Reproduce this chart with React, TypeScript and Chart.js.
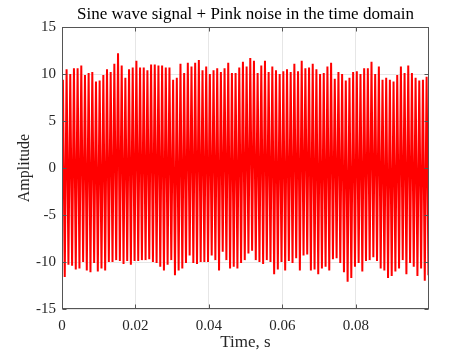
import { useEffect, useRef } from "react";
import { Chart, registerables } from "chart.js";

Chart.register(...registerables);

// Peak (max) value of each 1 ms cycle
const peakValues = [
  9.4, 10.5, 10.0, 10.6, 10.6, 10.9, 9.9, 10.1, 10.2, 9.2,
  9.3, 9.9, 10.5, 10.2, 11.1, 12.2, 10.9, 9.6, 10.5, 10.7,
  11.4, 10.7, 10.7, 10.4, 11.0, 11.0, 10.9, 10.9, 10.7, 10.7,
  9.4, 9.6, 11.1, 10.1, 11.2, 10.8, 11.2, 11.5, 10.4, 10.8,
  10.0, 10.4, 10.6, 10.2, 10.6, 11.2, 10.1, 10.1, 10.7, 11.3,
  10.8, 11.7, 11.4, 10.1, 10.9, 11.4, 10.2, 10.8, 10.4, 10.0,
  10.3, 10.5, 10.2, 11.1, 10.3, 11.4, 10.6, 10.7, 11.1, 10.5,
  10.0, 10.1, 10.8, 11.2, 9.5, 10.2, 10.0, 9.3, 9.6, 10.2,
  10.3, 10.0, 10.6, 10.6, 11.3, 10.0, 10.8, 9.4, 9.6, 9.4,
  9.2, 9.9, 10.8, 10.1, 10.9, 10.1, 9.6, 9.3, 9.4, 9.7,
];

// Trough (min) value of each cycle
const troughValues = [
  -11.6, -10.3, -10.4, -10.8, -10.7, -10.0, -10.9, -11.1, -10.1, -11.0,
  -10.7, -10.9, -10.0, -10.0, -9.8, -9.9, -10.2, -9.9, -10.3, -9.9,
  -9.9, -9.8, -9.8, -9.7, -10.0, -10.1, -10.5, -10.9, -10.3, -9.8,
  -11.4, -10.9, -10.7, -10.1, -9.3, -10.1, -10.2, -10.0, -10.0, -10.0,
  -9.3, -9.8, -10.9, -8.9, -9.8, -10.7, -10.5, -10.7, -10.1, -9.8,
  -9.1, -8.8, -9.8, -10.0, -10.2, -9.8, -10.0, -11.3, -10.8, -10.0,
  -10.9, -9.9, -10.1, -9.6, -10.9, -9.3, -9.2, -10.9, -10.8, -11.3,
  -10.7, -10.5, -10.9, -9.7, -9.6, -10.1, -11.1, -12.1, -11.7, -10.5,
  -10.1, -11.0, -9.9, -9.8, -9.5, -9.9, -10.7, -10.9, -11.7, -11.5,
  -11.0, -10.7, -9.8, -11.3, -10.1, -10.5, -11.5, -10.7, -12.0, -11.4,
];

const startValue = 3.3;
const cyclePeriod = 0.001; // seconds per sine cycle (1 kHz)
const xTicks = [0, 0.02, 0.04, 0.06, 0.08];
const yTicks = [-15, -10, -5, 0, 5, 10, 15];
const xMin = 0;
const xMax = 0.0999;
const yMin = -15;
const yMax = 15;
const titleText = "Sine wave signal + Pink noise in the time domain";
const xLabel = "Time, s";
const yLabel = "Amplitude";

const FONT = "'Liberation Serif', 'Times New Roman', Times, serif";

const framePlugin = {
  id: "frame",
  afterDatasetsDraw(chart: any) {
    const { ctx, chartArea: a, scales } = chart;
    const l = Math.round(a.left) + 0.5;
    const r = Math.round(a.right) - 0.5;
    const t = Math.round(a.top) + 0.5;
    const b = Math.round(a.bottom) - 0.5;
    ctx.save();
    ctx.strokeStyle = "#555555";
    ctx.lineWidth = 1;
    ctx.strokeRect(l, t, r - l, b - t);
    const len = 4;
    ctx.beginPath();
    xTicks.forEach((v) => {
      const px = Math.round(scales.x.getPixelForValue(v)) + 0.5;
      ctx.moveTo(px, b);
      ctx.lineTo(px, b - len);
      ctx.moveTo(px, t);
      ctx.lineTo(px, t + len);
    });
    yTicks.forEach((v) => {
      const py = Math.round(scales.y.getPixelForValue(v)) + 0.5;
      ctx.moveTo(l, py);
      ctx.lineTo(l + len, py);
      ctx.moveTo(r, py);
      ctx.lineTo(r - len, py);
    });
    ctx.stroke();
    ctx.restore();
  },
};

export default function App() {
  const ref = useRef<HTMLCanvasElement>(null);

  useEffect(() => {
    document.body.style.margin = "0";
    const points: { x: number; y: number }[] = [{ x: 0, y: startValue }];
    peakValues.forEach((p, k) => {
      points.push({ x: (k + 0.25) * cyclePeriod, y: p });
      points.push({ x: (k + 0.75) * cyclePeriod, y: troughValues[k] });
    });

    const chart = new Chart(ref.current as HTMLCanvasElement, {
      type: "line",
      data: {
        datasets: [
          {
            data: points,
            borderColor: "#ff0000",
            borderWidth: 2,
            pointRadius: 0,
            tension: 0,
            fill: false,
          },
        ],
      },
      plugins: [framePlugin],
      options: {
        responsive: false,
        animation: false,
        layout: { padding: { left: 0, right: 45, top: 0, bottom: 0 } },
        plugins: {
          legend: { display: false },
          tooltip: { enabled: false },
          title: {
            display: true,
            text: titleText,
            color: "#000000",
            fullSize: false,
            font: { family: FONT, size: 17, weight: "normal" },
            padding: { top: 4.6, bottom: 2 },
          },
        },
        scales: {
          x: {
            type: "linear",
            min: xMin,
            max: xMax,
            afterBuildTicks: (s: any) => {
              s.ticks = xTicks.map((v) => ({ value: v }));
            },
            afterFit: (s: any) => {
              s.height = 46;
            },
            grid: { color: "#e6e6e6", drawTicks: false, lineWidth: 1 },
            border: { display: false },
            ticks: {
              color: "#262626",
              font: { family: FONT, size: 15 },
              padding: 8,
              maxRotation: 0,
              autoSkip: false,
              callback: (v: any) => String(v),
            },
            title: {
              display: true,
              text: xLabel,
              color: "#262626",
              font: { family: FONT, size: 17 },
              padding: { top: 0, bottom: 2 },
            },
          },
          y: {
            type: "linear",
            min: yMin,
            max: yMax,
            afterBuildTicks: (s: any) => {
              s.ticks = yTicks.map((v) => ({ value: v }));
            },
            afterFit: (s: any) => {
              s.width = 62;
            },
            grid: { color: "#e6e6e6", drawTicks: false, lineWidth: 1 },
            border: { display: false },
            ticks: {
              color: "#262626",
              font: { family: FONT, size: 15 },
              padding: 6,
              autoSkip: false,
              callback: (v: any) => String(v),
            },
            title: {
              display: true,
              text: yLabel,
              color: "#262626",
              font: { family: FONT, size: 16 },
              padding: { top: 15, bottom: 0 },
            },
          },
        },
      },
    } as any);
    return () => chart.destroy();
  }, []);

  return (
    <div style={{ width: 474, height: 355, position: "relative" }}>
      <canvas ref={ref} width={474} height={355} style={{ display: "block" }} />
    </div>
  );
}
